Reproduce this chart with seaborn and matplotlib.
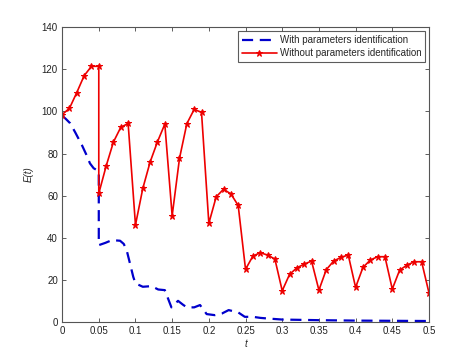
import matplotlib
matplotlib.use("Agg")
import matplotlib.pyplot as plt
import seaborn as sns

# E(t) with parameters identification (blue dashed)
t_with = [0, 0.005, 0.011, 0.018, 0.027, 0.033, 0.038, 0.043, 0.048, 0.05,
          0.05, 0.059, 0.068, 0.079, 0.084, 0.088, 0.093, 0.097, 0.10, 0.11,
          0.122, 0.131, 0.14, 0.149, 0.158, 0.165, 0.17, 0.18, 0.188, 0.197,
          0.208, 0.218, 0.227, 0.24, 0.249, 0.26, 0.27, 0.28, 0.30, 0.35,
          0.40, 0.45, 0.50]
e_with = [98, 96.5, 94.4, 90, 84, 79.5, 75.3, 73, 72, 71.5,
          36.4, 37.5, 38.8, 38.5, 37, 34, 27, 21.3, 18.2, 16.6,
          16.9, 15.3, 15, 6.8, 9.9, 8, 6.8, 6.8, 7.9, 3.6,
          3.1, 3.9, 5.5, 4.4, 2.3, 2.3, 1.8, 1.5, 1.0, 0.7,
          0.5, 0.4, 0.3]

# E(t) without parameters identification (red, markers every 0.01)
t_without = [0, 0.01, 0.02, 0.03, 0.04, 0.05, 0.05,
             0.06, 0.07, 0.08, 0.09, 0.10, 0.11, 0.12, 0.13, 0.14,
             0.15, 0.16, 0.17, 0.18, 0.19, 0.20, 0.21, 0.22, 0.23, 0.24,
             0.25, 0.26, 0.27, 0.28, 0.29, 0.30, 0.31, 0.32, 0.33, 0.34,
             0.35, 0.36, 0.37, 0.38, 0.39, 0.40, 0.41, 0.42, 0.43, 0.44,
             0.45, 0.46, 0.47, 0.48, 0.49, 0.50]
e_without = [98.5, 101.5, 109, 117, 121.5, 121.5, 61,
             74, 85.5, 92.5, 94.3, 46, 63.4, 76, 85.6, 94,
             50.4, 77.7, 94.2, 101, 99.6, 46.8, 59.4, 63, 60.8, 55.3,
             24.9, 31.2, 32.8, 31.7, 29.8, 14.7, 22.5, 25.6, 27.4, 28.8,
             15, 24.7, 28.8, 30.6, 31.7, 16.3, 25.8, 29.3, 30.9, 30.9,
             15.5, 24.5, 26.9, 28.5, 28.5, 13.7]

x_ticks = [0, 0.05, 0.1, 0.15, 0.2, 0.25, 0.3, 0.35, 0.4, 0.45, 0.5]
x_ticklabels = ["0", "0.05", "0.1", "0.15", "0.2", "0.25", "0.3", "0.35", "0.4", "0.45", "0.5"]
y_ticks = [0, 20, 40, 60, 80, 100, 120, 140]

sns.set_style("white")
plt.rcParams["font.family"] = ["Liberation Sans", "DejaVu Sans"]
plt.rcParams["font.size"] = 7

fig = plt.figure(figsize=(4.74, 3.61), dpi=100)
ax = fig.add_axes([0.131, 0.109, 0.774, 0.815])

sns.lineplot(x=t_with, y=e_with, ax=ax, sort=False, estimator=None,
             color="#0000cc", linewidth=1.6, dashes=False,
             label="With parameters identification")
ax.lines[-1].set_dashes([5, 3])

sns.lineplot(x=t_without, y=e_without, ax=ax, sort=False, estimator=None,
             color="#ee0000", linewidth=1.2, marker="*", markersize=5,
             markeredgecolor="#ee0000", markerfacecolor="#ee0000",
             label="Without parameters identification")

ax.set_xlim(0, 0.5)
ax.set_ylim(0, 140)
ax.set_xticks(x_ticks)
ax.set_xticklabels(x_ticklabels)
ax.set_yticks(y_ticks)
ax.tick_params(direction="in", length=3, width=0.6, color="#444444",
               labelcolor="#222222", bottom=True, left=True, top=True,
               right=True, pad=3)
for s in ax.spines.values():
    s.set_color("#555555")
    s.set_linewidth(0.8)

ax.set_xlabel("t", fontsize=7, style="italic", labelpad=2)
ax.set_ylabel("E(t)", fontsize=7, style="italic", labelpad=6)

leg = ax.legend(loc="upper right", fontsize=7, frameon=True, fancybox=False,
                handlelength=3.6, borderaxespad=0.4, borderpad=0.4,
                labelspacing=0.3, handletextpad=0.3)
leg.get_frame().set_edgecolor("#333333")
leg.get_frame().set_linewidth(0.8)

fig.savefig("out.png", dpi=100)
